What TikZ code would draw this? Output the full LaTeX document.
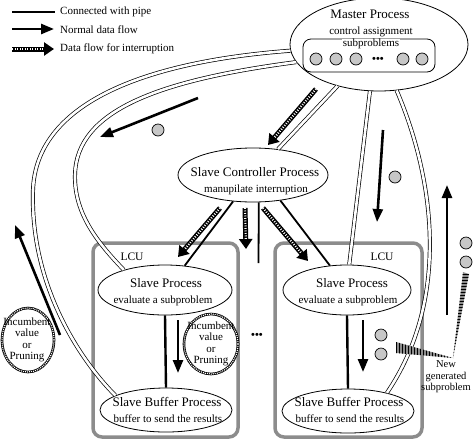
\documentclass[tikz,border=0pt]{standalone}
\usepackage{fontspec}
\setmainfont{Liberation Serif}
\usetikzlibrary{arrows.meta,shapes.geometric,patterns}
\begin{document}
\begin{tikzpicture}[x=1pt,y=-1pt,
  proc/.style={draw, ellipse, line width=0.8pt, fill=white, inner sep=0pt},
  pipe/.style={draw, double, double distance=2.6pt, line width=0.7pt},
  link/.style={draw, line width=1.8pt},
  flow/.style={draw, line width=2.6pt, -{Triangle[length=13pt,width=10pt]}},
  hatch/.style={draw=black, line width=5pt, -{Triangle[length=10pt,width=13pt]},
     postaction={draw=white, line width=2.2pt, dash pattern=on 0.9pt off 1.6pt, shorten >=10pt, -}},
  ball/.style={circle, draw, line width=0.7pt, fill=black!22, minimum size=12pt, inner sep=0pt},
  lcu/.style={draw=black!45, line width=3.5pt, rounded corners=9pt, inner sep=0pt},
  ttl/.style={font=\fontsize{13}{15}\selectfont, inner sep=0pt},
  sub/.style={font=\fontsize{11}{13}\selectfont, inner sep=0pt},
  lbl/.style={font=\fontsize{11}{13}\selectfont, inner sep=0pt, anchor=west},
  inc/.style={draw, ellipse, line width=2.6pt, inner sep=0pt,
     postaction={draw=white, line width=1.2pt, dash pattern=on 1pt off 1pt}},
  inctext/.style={align=center, font=\fontsize{11}{11.5}\selectfont, inner sep=0pt},
  dots/.style={font=\fontsize{11}{12}\selectfont\bfseries, inner sep=0pt}
]
\useasboundingbox (0,0) rectangle (474,440);

% legend
\coordinate (lg1a) at (12,12); \coordinate (lg1b) at (55,12);
\coordinate (lg2a) at (12,29); \coordinate (lg2b) at (54,29);
\coordinate (lg3a) at (12,49); \coordinate (lg3b) at (54,49);
\draw[line width=2.2pt] (lg1a) -- (lg1b);
\draw[flow] (lg2a) -- (lg2b);
\draw[hatch] (lg3a) -- (lg3b);
\node[lbl] (t1) at (60,12) {Connected with pipe};
\node[lbl] (t2) at (60,30) {Normal data flow};
\node[lbl] (t3) at (60,49) {Data flow for interruption};

% LCU boxes
\node[lcu, minimum width=145pt, minimum height=194pt] (lcu1) at (165.5,340) {};
\node[lcu, minimum width=147pt, minimum height=194pt] (lcu2) at (348.5,340) {};
\node[sub, font=\fontsize{11.5}{13}\selectfont] (lcul1) at (132,257) {LCU};
\node[sub, font=\fontsize{11.5}{13}\selectfont] (lcul2) at (382,257) {LCU};

% process nodes
\node[proc, minimum width=178pt, minimum height=93pt] (master) at (379,44.5) {};
\node[proc, minimum width=150pt, minimum height=54pt] (ctrl) at (253,175) {};
\node[proc, minimum width=134pt, minimum height=50pt] (sp1) at (165,290) {};
\node[proc, minimum width=132pt, minimum height=44pt] (sb1) at (166,410) {};
\node[proc, minimum width=128pt, minimum height=50pt] (sp2) at (347,290) {};
\node[proc, minimum width=132pt, minimum height=44pt] (sb2) at (348,411) {};

\node[ttl] (mt) at (370,14) {Master Process};
\node[sub] (ms) at (371,32) {control assignment};
\node[draw, line width=0.8pt, rounded corners=8pt, minimum width=132pt, minimum height=33pt] (pool) at (369,55.5) {};
\node[sub, fill=white, inner sep=0.5pt] (mss) at (371,44) {subproblems};
\node[ball] (b1) at (316,59) {};
\node[ball] (b2) at (336,59) {};
\node[ball] (b3) at (356,59) {};
\node[dots] (d1) at (378,59.5) {•••};
\node[ball] (b4) at (403,59) {};
\node[ball] (b5) at (422,59) {};

\node[ttl] (ct) at (255,172) {Slave Controller Process};
\node[sub] (cs) at (256,190) {manupilate interruption};
\node[ttl] (s1t) at (166,283) {Slave Process};
\node[sub] (s1s) at (163,301) {evaluate a subproblem};
\node[ttl] (b1t) at (167,402) {Slave Buffer Process};
\node[sub] (b1s) at (168,419) {buffer to send the results};
\node[ttl] (s2t) at (352,283) {Slave Process};
\node[sub] (s2s) at (348,301) {evaluate a subproblem};
\node[ttl] (b2t) at (349,402) {Slave Buffer Process};
\node[sub] (b2s) at (350,419) {buffer to send the results};

% pipes from the master
\draw[pipe] (master.184) .. controls (140,62) and (36,105) .. (33,190)
   .. controls (30,285) and (80,360) .. (sb1.164);
\draw[pipe] (master.192) .. controls (160,80) and (76,110) .. (75,175)
   .. controls (74,215) and (100,245) .. (sp1.154);
\draw[pipe] (master.225) -- (ctrl.46);
\draw[pipe] (master.259) -- (sp2.85);
\draw[pipe] (master.291) .. controls (435,180) and (450,300) .. (sb2.25);

% links from the controller
\coordinate (l2e) at (258.5,263);
\draw[link] (ctrl.233) -- (sp1.51);
\draw[link] (ctrl.282) -- (l2e);
\draw[link] (ctrl.317) -- (sp2.125);

% pipes inside LCUs
\draw[link, line width=2.4pt] (sp1.south) -- (sb1.north);
\draw[link, line width=2.4pt] (sp2.south) -- (sb2.north);

% interruption flows
\coordinate (h4s) at (316,89); \coordinate (h4e) at (268,145);
\coordinate (h1s) at (220,208); \coordinate (h1e) at (178,257);
\coordinate (h2s) at (245,208); \coordinate (h2e) at (246,249);
\coordinate (h3s) at (263,208); \coordinate (h3e) at (308,261);
\draw[hatch] (h4s) -- (h4e);
\draw[hatch] (h1s) -- (h1e);
\draw[hatch] (h2s) -- (h2e);
\draw[hatch] (h3s) -- (h3e);

% normal data flows
\coordinate (f1s) at (198,98); \coordinate (f1e) at (100,137);
\coordinate (f2s) at (383,130); \coordinate (f2e) at (377,222);
\coordinate (f3s) at (447,315); \coordinate (f3e) at (447,185);
\coordinate (f4s) at (60,335); \coordinate (f4e) at (15,225);
\coordinate (f5s) at (178,320); \coordinate (f5e) at (178,373);
\coordinate (f6s) at (363,320); \coordinate (f6e) at (363,372);
\draw[flow] (f1s) -- (f1e);
\draw[flow] (f2s) -- (f2e);
\draw[flow] (f3s) -- (f3e);
\draw[flow] (f4s) -- (f4e);
\draw[flow] (f5s) -- (f5e);
\draw[flow] (f6s) -- (f6e);

% balls
\node[ball] (b7) at (158,130) {};
\node[ball] (b8) at (395,177) {};
\node[ball] (b9) at (381,335) {};
\node[ball] (b10) at (381,354) {};
\node[ball] (b11) at (466,243) {};
\node[ball] (b12) at (466,262) {};

% incumbent notes
\node[inc, minimum width=54pt, minimum height=60pt] (inc1) at (211,344) {};
\node[inctext] (inc1t) at (211,344) {Incumbent\\value\\or\\Pruning};
\node[inc, minimum width=52pt, minimum height=64pt] (inc2) at (28,340) {};
\node[inctext] (inc2t) at (27,340) {Incumbent\\value\\or\\Pruning};

\node[dots] (d2) at (257,336) {•••};

% new generated subproblem
\coordinate (ng) at (453,358);
\fill[black!45] (ng) -- (396,342) -- (396,353) -- cycle;
\fill[pattern=vertical lines] (ng) -- (396,342) -- (396,353) -- cycle;
\fill[black!45] (ng) -- (463,272) -- (469,274) -- cycle;
\fill[pattern=horizontal lines] (ng) -- (463,272) -- (469,274) -- cycle;
\node[align=center, font=\fontsize{10.5}{11.5}\selectfont, inner sep=0pt] (ngl) at (446,377) {New\\generated\\subproblem};
\end{tikzpicture}
\end{document}
